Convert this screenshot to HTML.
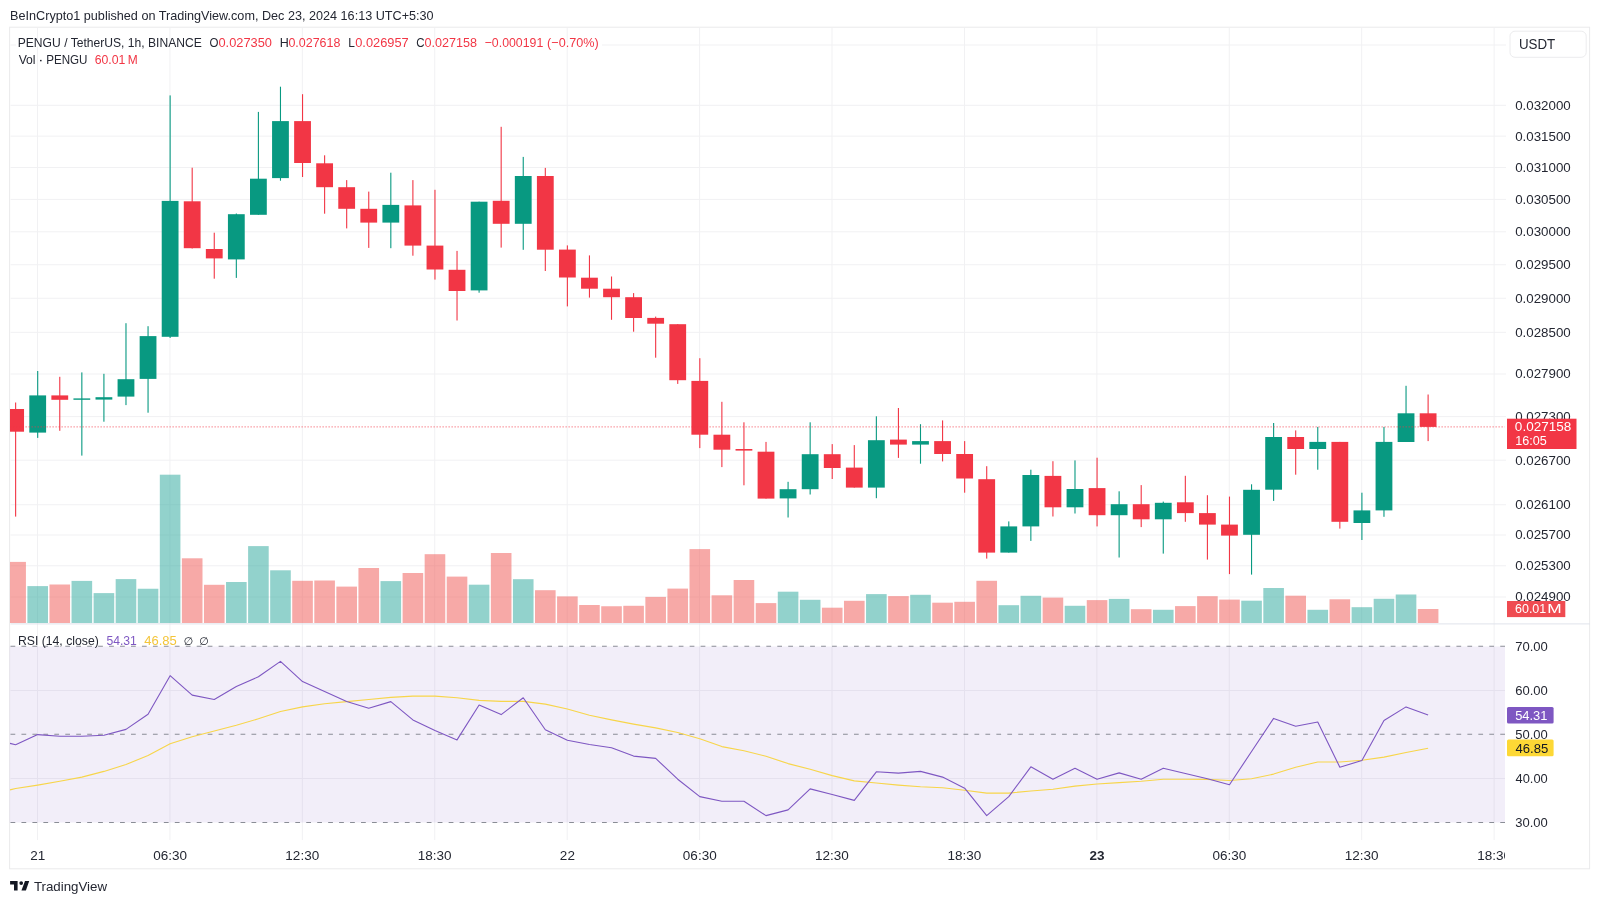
<!DOCTYPE html>
<html>
<head>
<meta charset="utf-8">
<title>PENGU / TetherUS chart</title>
<style>
html,body{margin:0;padding:0;background:#fff;}
body{width:1600px;height:904px;position:relative;overflow:hidden;font-family:"Liberation Sans",Arial,Helvetica,sans-serif;color:#131722;}
svg text{white-space:pre;}
svg{will-change:transform;}
</style>
</head>
<body>
<svg width="1600" height="904" viewBox="0 0 1600 904" style="position:absolute;left:0;top:0">
<defs><clipPath id="cpm"><rect x="10" y="28" width="1494.5" height="595.5"/></clipPath>
<clipPath id="cpr"><rect x="9.6" y="624.5" width="1494.5" height="215.5"/></clipPath>
<clipPath id="cpt"><rect x="10.5" y="840" width="1494.5" height="29"/></clipPath></defs>
<rect x="9.6" y="27.2" width="1580" height="841.6" fill="#fff" stroke="#EAEAEC" stroke-width="1"/>
<path d="M10.5 44.99 H1506 M10.5 105.3 H1506 M10.5 136.17 H1506 M10.5 167.53 H1506 M10.5 199.4 H1506 M10.5 231.8 H1506 M10.5 264.74 H1506 M10.5 298.24 H1506 M10.5 332.33 H1506 M10.5 374.03 H1506 M10.5 416.64 H1506 M10.5 460.2 H1506 M10.5 504.75 H1506 M10.5 535.02 H1506 M10.5 565.77 H1506 M10.5 597 H1506 M10.5 690.5 H1505 M10.5 778.5 H1505" stroke="#F1F1F3" stroke-width="1" fill="none"/>
<path d="M37.5 28 V840 M169.92 28 V840 M302.34 28 V840 M434.76 28 V840 M567.18 28 V840 M699.6 28 V840 M832.02 28 V840 M964.44 28 V840 M1096.86 28 V840 M1229.28 28 V840 M1361.7 28 V840 M1494.12 28 V840" stroke="#F1F1F3" stroke-width="1" fill="none"/>
<rect x="9.6" y="646.5" width="1495.4" height="176" fill="#7E57C2" fill-opacity="0.1"/>
<g clip-path="url(#cpm)">
<rect x="5.33" y="561.9" width="20.6" height="61.1" fill="rgba(239,83,80,0.5)"/>
<rect x="27.4" y="586.1" width="20.6" height="36.9" fill="rgba(38,166,154,0.5)"/>
<rect x="49.47" y="584.5" width="20.6" height="38.5" fill="rgba(239,83,80,0.5)"/>
<rect x="71.54" y="580.9" width="20.6" height="42.1" fill="rgba(38,166,154,0.5)"/>
<rect x="93.61" y="593.1" width="20.6" height="29.9" fill="rgba(38,166,154,0.5)"/>
<rect x="115.68" y="579.1" width="20.6" height="43.9" fill="rgba(38,166,154,0.5)"/>
<rect x="137.75" y="588.75" width="20.6" height="34.25" fill="rgba(38,166,154,0.5)"/>
<rect x="159.82" y="474.7" width="20.6" height="148.3" fill="rgba(38,166,154,0.5)"/>
<rect x="181.89" y="558.3" width="20.6" height="64.7" fill="rgba(239,83,80,0.5)"/>
<rect x="203.96" y="584.8" width="20.6" height="38.2" fill="rgba(239,83,80,0.5)"/>
<rect x="226.03" y="582" width="20.6" height="41" fill="rgba(38,166,154,0.5)"/>
<rect x="248.1" y="546.1" width="20.6" height="76.9" fill="rgba(38,166,154,0.5)"/>
<rect x="270.17" y="570.3" width="20.6" height="52.7" fill="rgba(38,166,154,0.5)"/>
<rect x="292.24" y="580.8" width="20.6" height="42.2" fill="rgba(239,83,80,0.5)"/>
<rect x="314.31" y="580.5" width="20.6" height="42.5" fill="rgba(239,83,80,0.5)"/>
<rect x="336.38" y="586.6" width="20.6" height="36.4" fill="rgba(239,83,80,0.5)"/>
<rect x="358.45" y="568" width="20.6" height="55" fill="rgba(239,83,80,0.5)"/>
<rect x="380.52" y="581.1" width="20.6" height="41.9" fill="rgba(38,166,154,0.5)"/>
<rect x="402.59" y="573" width="20.6" height="50" fill="rgba(239,83,80,0.5)"/>
<rect x="424.66" y="554.2" width="20.6" height="68.8" fill="rgba(239,83,80,0.5)"/>
<rect x="446.73" y="576.6" width="20.6" height="46.4" fill="rgba(239,83,80,0.5)"/>
<rect x="468.8" y="584.7" width="20.6" height="38.3" fill="rgba(38,166,154,0.5)"/>
<rect x="490.87" y="553" width="20.6" height="70" fill="rgba(239,83,80,0.5)"/>
<rect x="512.94" y="579.2" width="20.6" height="43.8" fill="rgba(38,166,154,0.5)"/>
<rect x="535.01" y="590.2" width="20.6" height="32.8" fill="rgba(239,83,80,0.5)"/>
<rect x="557.08" y="596.4" width="20.6" height="26.6" fill="rgba(239,83,80,0.5)"/>
<rect x="579.15" y="605" width="20.6" height="18" fill="rgba(239,83,80,0.5)"/>
<rect x="601.22" y="606.25" width="20.6" height="16.75" fill="rgba(239,83,80,0.5)"/>
<rect x="623.29" y="605.8" width="20.6" height="17.2" fill="rgba(239,83,80,0.5)"/>
<rect x="645.36" y="596.9" width="20.6" height="26.1" fill="rgba(239,83,80,0.5)"/>
<rect x="667.43" y="588.6" width="20.6" height="34.4" fill="rgba(239,83,80,0.5)"/>
<rect x="689.5" y="549.1" width="20.6" height="73.9" fill="rgba(239,83,80,0.5)"/>
<rect x="711.57" y="595.3" width="20.6" height="27.7" fill="rgba(239,83,80,0.5)"/>
<rect x="733.64" y="580" width="20.6" height="43" fill="rgba(239,83,80,0.5)"/>
<rect x="755.71" y="603.1" width="20.6" height="19.9" fill="rgba(239,83,80,0.5)"/>
<rect x="777.78" y="591.7" width="20.6" height="31.3" fill="rgba(38,166,154,0.5)"/>
<rect x="799.85" y="599.8" width="20.6" height="23.2" fill="rgba(38,166,154,0.5)"/>
<rect x="821.92" y="607.7" width="20.6" height="15.3" fill="rgba(239,83,80,0.5)"/>
<rect x="843.99" y="600.8" width="20.6" height="22.2" fill="rgba(239,83,80,0.5)"/>
<rect x="866.06" y="594.1" width="20.6" height="28.9" fill="rgba(38,166,154,0.5)"/>
<rect x="888.13" y="596.1" width="20.6" height="26.9" fill="rgba(239,83,80,0.5)"/>
<rect x="910.2" y="594.8" width="20.6" height="28.2" fill="rgba(38,166,154,0.5)"/>
<rect x="932.27" y="602.7" width="20.6" height="20.3" fill="rgba(239,83,80,0.5)"/>
<rect x="954.34" y="601.8" width="20.6" height="21.2" fill="rgba(239,83,80,0.5)"/>
<rect x="976.41" y="580.8" width="20.6" height="42.2" fill="rgba(239,83,80,0.5)"/>
<rect x="998.48" y="605.2" width="20.6" height="17.8" fill="rgba(38,166,154,0.5)"/>
<rect x="1020.55" y="595.8" width="20.6" height="27.2" fill="rgba(38,166,154,0.5)"/>
<rect x="1042.62" y="597.6" width="20.6" height="25.4" fill="rgba(239,83,80,0.5)"/>
<rect x="1064.69" y="605.8" width="20.6" height="17.2" fill="rgba(38,166,154,0.5)"/>
<rect x="1086.76" y="600.1" width="20.6" height="22.9" fill="rgba(239,83,80,0.5)"/>
<rect x="1108.83" y="598.9" width="20.6" height="24.1" fill="rgba(38,166,154,0.5)"/>
<rect x="1130.9" y="609.2" width="20.6" height="13.8" fill="rgba(239,83,80,0.5)"/>
<rect x="1152.97" y="609.8" width="20.6" height="13.2" fill="rgba(38,166,154,0.5)"/>
<rect x="1175.04" y="606.1" width="20.6" height="16.9" fill="rgba(239,83,80,0.5)"/>
<rect x="1197.11" y="596.2" width="20.6" height="26.8" fill="rgba(239,83,80,0.5)"/>
<rect x="1219.18" y="599.6" width="20.6" height="23.4" fill="rgba(239,83,80,0.5)"/>
<rect x="1241.25" y="600.7" width="20.6" height="22.3" fill="rgba(38,166,154,0.5)"/>
<rect x="1263.32" y="588" width="20.6" height="35" fill="rgba(38,166,154,0.5)"/>
<rect x="1285.39" y="595.7" width="20.6" height="27.3" fill="rgba(239,83,80,0.5)"/>
<rect x="1307.46" y="609.8" width="20.6" height="13.2" fill="rgba(38,166,154,0.5)"/>
<rect x="1329.53" y="599.3" width="20.6" height="23.7" fill="rgba(239,83,80,0.5)"/>
<rect x="1351.6" y="607.2" width="20.6" height="15.8" fill="rgba(38,166,154,0.5)"/>
<rect x="1373.67" y="598.8" width="20.6" height="24.2" fill="rgba(38,166,154,0.5)"/>
<rect x="1395.74" y="594.5" width="20.6" height="28.5" fill="rgba(38,166,154,0.5)"/>
<rect x="1417.81" y="609" width="20.6" height="14" fill="rgba(239,83,80,0.5)"/>
<rect x="15.08" y="402.5" width="1.1" height="114.1" fill="#F23645"/>
<rect x="7.23" y="409" width="16.8" height="22.7" fill="#F23645"/>
<rect x="37.15" y="371" width="1.1" height="66.9" fill="#089981"/>
<rect x="29.3" y="395.4" width="16.8" height="37.2" fill="#089981"/>
<rect x="59.22" y="376.8" width="1.1" height="54" fill="#F23645"/>
<rect x="51.37" y="395.4" width="16.8" height="4.4" fill="#F23645"/>
<rect x="81.29" y="372.4" width="1.1" height="83.2" fill="#089981"/>
<rect x="73.44" y="398.4" width="16.8" height="1.4" fill="#089981"/>
<rect x="103.36" y="373.8" width="1.1" height="47.9" fill="#089981"/>
<rect x="95.51" y="397.2" width="16.8" height="2.4" fill="#089981"/>
<rect x="125.43" y="323.2" width="1.1" height="81.9" fill="#089981"/>
<rect x="117.58" y="379.2" width="16.8" height="17.4" fill="#089981"/>
<rect x="147.5" y="326.2" width="1.1" height="86.5" fill="#089981"/>
<rect x="139.65" y="336.1" width="16.8" height="42.8" fill="#089981"/>
<rect x="169.57" y="95.4" width="1.1" height="242.6" fill="#089981"/>
<rect x="161.72" y="200.9" width="16.8" height="135.9" fill="#089981"/>
<rect x="191.64" y="167.7" width="1.1" height="80.8" fill="#F23645"/>
<rect x="183.79" y="201.3" width="16.8" height="46.9" fill="#F23645"/>
<rect x="213.71" y="232.7" width="1.1" height="46" fill="#F23645"/>
<rect x="205.86" y="249" width="16.8" height="9.4" fill="#F23645"/>
<rect x="235.78" y="213.5" width="1.1" height="64.4" fill="#089981"/>
<rect x="227.93" y="214.2" width="16.8" height="45.2" fill="#089981"/>
<rect x="257.85" y="111.9" width="1.1" height="102.9" fill="#089981"/>
<rect x="250" y="178.7" width="16.8" height="36.1" fill="#089981"/>
<rect x="279.92" y="86.7" width="1.1" height="94" fill="#089981"/>
<rect x="272.07" y="121.1" width="16.8" height="57" fill="#089981"/>
<rect x="301.99" y="94.2" width="1.1" height="82.8" fill="#F23645"/>
<rect x="294.14" y="121.1" width="16.8" height="41.9" fill="#F23645"/>
<rect x="324.06" y="155.3" width="1.1" height="58.4" fill="#F23645"/>
<rect x="316.21" y="163.3" width="16.8" height="23.9" fill="#F23645"/>
<rect x="346.13" y="180.1" width="1.1" height="48.3" fill="#F23645"/>
<rect x="338.28" y="187.2" width="16.8" height="21.6" fill="#F23645"/>
<rect x="368.2" y="191.6" width="1.1" height="56.3" fill="#F23645"/>
<rect x="360.35" y="208.8" width="16.8" height="13.8" fill="#F23645"/>
<rect x="390.27" y="172.7" width="1.1" height="75.5" fill="#089981"/>
<rect x="382.42" y="204.9" width="16.8" height="17.7" fill="#089981"/>
<rect x="412.34" y="180.1" width="1.1" height="75.6" fill="#F23645"/>
<rect x="404.49" y="205.4" width="16.8" height="40.2" fill="#F23645"/>
<rect x="434.41" y="189.8" width="1.1" height="89.8" fill="#F23645"/>
<rect x="426.56" y="245.6" width="16.8" height="23.9" fill="#F23645"/>
<rect x="456.48" y="250.9" width="1.1" height="69.6" fill="#F23645"/>
<rect x="448.63" y="269.8" width="16.8" height="21.2" fill="#F23645"/>
<rect x="478.55" y="201.7" width="1.1" height="91" fill="#089981"/>
<rect x="470.7" y="201.7" width="16.8" height="88.7" fill="#089981"/>
<rect x="500.62" y="126.8" width="1.1" height="120.8" fill="#F23645"/>
<rect x="492.77" y="200.8" width="16.8" height="23" fill="#F23645"/>
<rect x="522.69" y="156.9" width="1.1" height="92.9" fill="#089981"/>
<rect x="514.84" y="176" width="16.8" height="47.8" fill="#089981"/>
<rect x="544.76" y="167.9" width="1.1" height="103.1" fill="#F23645"/>
<rect x="536.91" y="176" width="16.8" height="73.7" fill="#F23645"/>
<rect x="566.83" y="245.4" width="1.1" height="61" fill="#F23645"/>
<rect x="558.98" y="249.6" width="16.8" height="27.9" fill="#F23645"/>
<rect x="588.9" y="255.4" width="1.1" height="42.2" fill="#F23645"/>
<rect x="581.05" y="277.7" width="16.8" height="11" fill="#F23645"/>
<rect x="610.97" y="276.5" width="1.1" height="43.3" fill="#F23645"/>
<rect x="603.12" y="288.7" width="16.8" height="8.5" fill="#F23645"/>
<rect x="633.04" y="293.1" width="1.1" height="38.6" fill="#F23645"/>
<rect x="625.19" y="297.2" width="16.8" height="20.8" fill="#F23645"/>
<rect x="655.11" y="316.6" width="1.1" height="41.1" fill="#F23645"/>
<rect x="647.26" y="317.9" width="16.8" height="5.8" fill="#F23645"/>
<rect x="677.18" y="324.2" width="1.1" height="59.7" fill="#F23645"/>
<rect x="669.33" y="324.2" width="16.8" height="56" fill="#F23645"/>
<rect x="699.25" y="358.2" width="1.1" height="89.9" fill="#F23645"/>
<rect x="691.4" y="380.9" width="16.8" height="53.8" fill="#F23645"/>
<rect x="721.32" y="401.8" width="1.1" height="65.3" fill="#F23645"/>
<rect x="713.47" y="434.7" width="16.8" height="15" fill="#F23645"/>
<rect x="743.39" y="422.3" width="1.1" height="63" fill="#F23645"/>
<rect x="735.54" y="449" width="16.8" height="1.6" fill="#F23645"/>
<rect x="765.46" y="441.9" width="1.1" height="56.7" fill="#F23645"/>
<rect x="757.61" y="451.7" width="16.8" height="46.9" fill="#F23645"/>
<rect x="787.53" y="481.8" width="1.1" height="35.7" fill="#089981"/>
<rect x="779.68" y="489.2" width="16.8" height="9.2" fill="#089981"/>
<rect x="809.6" y="422.3" width="1.1" height="72.2" fill="#089981"/>
<rect x="801.75" y="454.2" width="16.8" height="35" fill="#089981"/>
<rect x="831.67" y="444.1" width="1.1" height="34.9" fill="#F23645"/>
<rect x="823.82" y="454.2" width="16.8" height="13.8" fill="#F23645"/>
<rect x="853.74" y="445.1" width="1.1" height="42.5" fill="#F23645"/>
<rect x="845.89" y="467.6" width="16.8" height="20" fill="#F23645"/>
<rect x="875.81" y="416.3" width="1.1" height="81.9" fill="#089981"/>
<rect x="867.96" y="440.2" width="16.8" height="47.4" fill="#089981"/>
<rect x="897.88" y="408" width="1.1" height="49.9" fill="#F23645"/>
<rect x="890.03" y="439.6" width="16.8" height="5" fill="#F23645"/>
<rect x="919.95" y="424.2" width="1.1" height="39.5" fill="#089981"/>
<rect x="912.1" y="441.1" width="16.8" height="3.5" fill="#089981"/>
<rect x="942.02" y="420.4" width="1.1" height="41" fill="#F23645"/>
<rect x="934.17" y="441.1" width="16.8" height="12.9" fill="#F23645"/>
<rect x="964.09" y="441.1" width="1.1" height="51.6" fill="#F23645"/>
<rect x="956.24" y="454" width="16.8" height="24.5" fill="#F23645"/>
<rect x="986.16" y="466.2" width="1.1" height="92.4" fill="#F23645"/>
<rect x="978.31" y="479.2" width="16.8" height="73.4" fill="#F23645"/>
<rect x="1008.23" y="521.4" width="1.1" height="31.2" fill="#089981"/>
<rect x="1000.38" y="526.4" width="16.8" height="26.2" fill="#089981"/>
<rect x="1030.3" y="469.7" width="1.1" height="71.2" fill="#089981"/>
<rect x="1022.45" y="475" width="16.8" height="51.4" fill="#089981"/>
<rect x="1052.37" y="461.2" width="1.1" height="55.3" fill="#F23645"/>
<rect x="1044.52" y="475.9" width="16.8" height="31.4" fill="#F23645"/>
<rect x="1074.44" y="460.4" width="1.1" height="53.1" fill="#089981"/>
<rect x="1066.59" y="489" width="16.8" height="18.3" fill="#089981"/>
<rect x="1096.51" y="457.7" width="1.1" height="68.7" fill="#F23645"/>
<rect x="1088.66" y="488.1" width="16.8" height="27.1" fill="#F23645"/>
<rect x="1118.58" y="491.3" width="1.1" height="66.2" fill="#089981"/>
<rect x="1110.73" y="504.2" width="16.8" height="11" fill="#089981"/>
<rect x="1140.65" y="485.1" width="1.1" height="42" fill="#F23645"/>
<rect x="1132.8" y="504.2" width="16.8" height="15.1" fill="#F23645"/>
<rect x="1162.72" y="501.6" width="1.1" height="52" fill="#089981"/>
<rect x="1154.87" y="502.8" width="16.8" height="16.5" fill="#089981"/>
<rect x="1184.79" y="475.8" width="1.1" height="46" fill="#F23645"/>
<rect x="1176.94" y="502.3" width="16.8" height="10.8" fill="#F23645"/>
<rect x="1206.86" y="495.2" width="1.1" height="64.4" fill="#F23645"/>
<rect x="1199.01" y="513.1" width="16.8" height="11.5" fill="#F23645"/>
<rect x="1228.93" y="496.6" width="1.1" height="77.5" fill="#F23645"/>
<rect x="1221.08" y="524.6" width="16.8" height="11" fill="#F23645"/>
<rect x="1251" y="484.3" width="1.1" height="90.3" fill="#089981"/>
<rect x="1243.15" y="489.8" width="16.8" height="45" fill="#089981"/>
<rect x="1273.07" y="423" width="1.1" height="77.9" fill="#089981"/>
<rect x="1265.22" y="437" width="16.8" height="52.7" fill="#089981"/>
<rect x="1295.14" y="430.4" width="1.1" height="44.3" fill="#F23645"/>
<rect x="1287.29" y="437" width="16.8" height="12" fill="#F23645"/>
<rect x="1317.21" y="426.9" width="1.1" height="42.8" fill="#089981"/>
<rect x="1309.36" y="441.9" width="16.8" height="7.1" fill="#089981"/>
<rect x="1339.28" y="441.9" width="1.1" height="86.7" fill="#F23645"/>
<rect x="1331.43" y="441.9" width="16.8" height="79.9" fill="#F23645"/>
<rect x="1361.35" y="492.7" width="1.1" height="47.3" fill="#089981"/>
<rect x="1353.5" y="510.4" width="16.8" height="12.6" fill="#089981"/>
<rect x="1383.42" y="426.9" width="1.1" height="89.9" fill="#089981"/>
<rect x="1375.57" y="441.9" width="16.8" height="68.5" fill="#089981"/>
<rect x="1405.49" y="385.8" width="1.1" height="56.2" fill="#089981"/>
<rect x="1397.64" y="413.3" width="16.8" height="28.7" fill="#089981"/>
<rect x="1427.56" y="394.5" width="1.1" height="46.6" fill="#F23645"/>
<rect x="1419.71" y="413.3" width="16.8" height="13.6" fill="#F23645"/>
<path d="M10.5 426.9 H1505" stroke="#F23645" stroke-width="1" stroke-opacity="0.7" stroke-dasharray="1.3 1.7" fill="none"/>
</g>
<path d="M10.5 623.9 H1590" stroke="#E0E3EB" stroke-width="1" fill="none"/>
<path d="M10.5 646.3 H1505" stroke="#8A8D96" stroke-width="1.1" stroke-dasharray="4.75 6.204" fill="none"/>
<path d="M10.5 734.3 H1505" stroke="#8A8D96" stroke-width="1.1" stroke-dasharray="4.75 6.204" fill="none"/>
<path d="M10.5 822.5 H1505" stroke="#8A8D96" stroke-width="1.1" stroke-dasharray="4.75 6.204" fill="none"/>
<g clip-path="url(#cpr)">
<polyline points="10,789.9 15.63,788.5 37.7,785.1 59.77,781.3 81.84,777.1 103.91,771.4 125.98,764.5 148.05,755.6 170.12,743.7 192.19,736.7 214.26,731 236.33,725.2 258.4,718.8 280.47,711.5 302.54,706.9 324.61,703.7 346.68,701.6 368.75,699.5 390.82,697.4 412.89,696.1 434.96,696.1 457.03,697.8 479.1,700.4 501.17,701.4 523.24,701.4 545.31,704.1 567.38,709 589.45,715.3 611.52,719.9 633.59,724.1 655.66,727.9 677.73,732.5 699.8,738.8 721.87,746.6 743.94,750.8 766.01,756.3 788.08,763.6 810.15,769.3 832.22,775.6 854.29,780.9 876.36,783 898.43,785.1 920.5,786.8 942.57,787.8 964.64,790.3 986.71,793.1 1008.78,793.1 1030.85,791 1052.92,789.3 1074.99,786.1 1097.06,784 1119.13,782.6 1141.2,781.3 1163.27,779.2 1185.34,779.2 1207.41,779.4 1229.48,780.5 1251.55,778.8 1273.62,774.1 1295.69,767.2 1317.76,762 1339.83,762 1361.9,760.3 1383.97,757.1 1406.04,752.5 1428.11,748.3" fill="none" stroke="#F7D54A" stroke-width="1.1" stroke-linejoin="round"/>
<polyline points="10,743.4 15.63,744.7 37.7,734.6 59.77,736.3 81.84,736.3 103.91,735.2 125.98,729.4 148.05,714.2 170.12,675.7 192.19,695.1 214.26,699.5 236.33,686.5 258.4,676.8 280.47,661.4 302.54,681.6 324.61,691.5 346.68,701.4 368.75,708.3 390.82,701.6 412.89,719.9 434.96,730.4 457.03,739.9 479.1,705 501.17,714.6 523.24,697.8 545.31,729.8 567.38,740.3 589.45,744.5 611.52,747.7 633.59,756.1 655.66,758.4 677.73,779.2 699.8,796.6 721.87,801.3 743.94,801.3 766.01,815.6 788.08,809.9 810.15,788.9 832.22,794.5 854.29,800.4 876.36,771.8 898.43,773.1 920.5,771.4 942.57,777.1 964.64,788.2 986.71,815.6 1008.78,796.6 1030.85,766.8 1052.92,779.2 1074.99,768.3 1097.06,779.2 1119.13,772.9 1141.2,779.2 1163.27,768.3 1185.34,773.5 1207.41,778.8 1229.48,784.7 1251.55,751.5 1273.62,718.4 1295.69,726.2 1317.76,722 1339.83,767.2 1361.9,760.5 1383.97,720.5 1406.04,706.9 1428.11,715.1" fill="none" stroke="#7E57C2" stroke-width="1.1" stroke-linejoin="round"/>
</g>
<g font-family="'Liberation Sans', Arial, Helvetica, sans-serif">
<text x="10.09" y="19.8" font-size="13" fill="#242732" textLength="423.57" lengthAdjust="spacingAndGlyphs">BeInCrypto1 published on TradingView.com, Dec 23, 2024 16:13 UTC+5:30</text>
<rect x="16" y="43.4" width="586" height="3.2" fill="#fff"/>
<text x="17.73" y="47" font-size="13" fill="#242732" textLength="184.1" lengthAdjust="spacingAndGlyphs">PENGU / TetherUS, 1h, BINANCE</text>
<text x="209.38" y="47" font-size="13" fill="#242732" textLength="8.97" lengthAdjust="spacingAndGlyphs">O</text>
<text x="218.49" y="47" font-size="13" fill="#F23645" textLength="53.47" lengthAdjust="spacingAndGlyphs">0.027350</text>
<text x="279.7" y="47" font-size="13" fill="#242732" textLength="9.03" lengthAdjust="spacingAndGlyphs">H</text>
<text x="288.4" y="47" font-size="13" fill="#F23645" textLength="52.01" lengthAdjust="spacingAndGlyphs">0.027618</text>
<text x="348.15" y="47" font-size="13" fill="#242732" textLength="6.62" lengthAdjust="spacingAndGlyphs">L</text>
<text x="355.19" y="47" font-size="13" fill="#F23645" textLength="53.47" lengthAdjust="spacingAndGlyphs">0.026957</text>
<text x="416.13" y="47" font-size="13" fill="#242732" textLength="8.3" lengthAdjust="spacingAndGlyphs">C</text>
<text x="424.4" y="47" font-size="13" fill="#F23645" textLength="52.57" lengthAdjust="spacingAndGlyphs">0.027158</text>
<text x="484.68" y="47" font-size="13" fill="#F23645" textLength="58.57" lengthAdjust="spacingAndGlyphs">−0.000191</text>
<text x="547.04" y="47" font-size="13" fill="#F23645" textLength="51.67" lengthAdjust="spacingAndGlyphs">(−0.70%)</text>
<text x="18.64" y="63.8" font-size="13" fill="#242732" textLength="16.96" lengthAdjust="spacingAndGlyphs">Vol</text>
<text x="37.98" y="63.8" font-size="13" fill="#242732" textLength="5.61" lengthAdjust="spacingAndGlyphs">·</text>
<text x="46.17" y="63.8" font-size="13" fill="#242732" textLength="41.32" lengthAdjust="spacingAndGlyphs">PENGU</text>
<text x="94.69" y="63.8" font-size="13" fill="#F23645" textLength="30.7" lengthAdjust="spacingAndGlyphs">60.01</text>
<text x="127.64" y="63.8" font-size="13" fill="#F23645" textLength="9.95" lengthAdjust="spacingAndGlyphs">M</text>
<text x="17.92" y="645.4" font-size="13" fill="#242732" textLength="80.85" lengthAdjust="spacingAndGlyphs">RSI (14, close)</text>
<text x="106.41" y="645.4" font-size="13" fill="#7E57C2" textLength="30.47" lengthAdjust="spacingAndGlyphs">54.31</text>
<text x="144.24" y="645.4" font-size="13" fill="#F4C53A" textLength="32.51" lengthAdjust="spacingAndGlyphs">46.85</text>
<text x="183.6" y="645.4" font-size="11" font-family="DejaVu Sans, sans-serif" fill="#131722">∅</text>
<text x="198.9" y="645.4" font-size="11" font-family="DejaVu Sans, sans-serif" fill="#131722">∅</text>
<text x="1515.17" y="109.7" font-size="13" fill="#242732" textLength="55.61" lengthAdjust="spacingAndGlyphs">0.032000</text>
<text x="1515.17" y="140.57" font-size="13" fill="#242732" textLength="55.61" lengthAdjust="spacingAndGlyphs">0.031500</text>
<text x="1515.17" y="171.93" font-size="13" fill="#242732" textLength="55.61" lengthAdjust="spacingAndGlyphs">0.031000</text>
<text x="1515.17" y="203.8" font-size="13" fill="#242732" textLength="55.61" lengthAdjust="spacingAndGlyphs">0.030500</text>
<text x="1515.17" y="236.2" font-size="13" fill="#242732" textLength="55.61" lengthAdjust="spacingAndGlyphs">0.030000</text>
<text x="1515.17" y="269.14" font-size="13" fill="#242732" textLength="55.61" lengthAdjust="spacingAndGlyphs">0.029500</text>
<text x="1515.17" y="302.64" font-size="13" fill="#242732" textLength="55.61" lengthAdjust="spacingAndGlyphs">0.029000</text>
<text x="1515.17" y="336.73" font-size="13" fill="#242732" textLength="55.61" lengthAdjust="spacingAndGlyphs">0.028500</text>
<text x="1515.17" y="378.43" font-size="13" fill="#242732" textLength="55.61" lengthAdjust="spacingAndGlyphs">0.027900</text>
<text x="1515.17" y="421.04" font-size="13" fill="#242732" textLength="55.61" lengthAdjust="spacingAndGlyphs">0.027300</text>
<text x="1515.17" y="464.6" font-size="13" fill="#242732" textLength="55.61" lengthAdjust="spacingAndGlyphs">0.026700</text>
<text x="1515.17" y="509.15" font-size="13" fill="#242732" textLength="55.61" lengthAdjust="spacingAndGlyphs">0.026100</text>
<text x="1515.17" y="539.42" font-size="13" fill="#242732" textLength="55.61" lengthAdjust="spacingAndGlyphs">0.025700</text>
<text x="1515.17" y="570.17" font-size="13" fill="#242732" textLength="55.61" lengthAdjust="spacingAndGlyphs">0.025300</text>
<text x="1515.17" y="601.4" font-size="13" fill="#242732" textLength="55.61" lengthAdjust="spacingAndGlyphs">0.024900</text>
<text x="1515.15" y="650.7" font-size="13" fill="#242732" textLength="32.64" lengthAdjust="spacingAndGlyphs">70.00</text>
<text x="1515.15" y="694.8" font-size="13" fill="#242732" textLength="32.64" lengthAdjust="spacingAndGlyphs">60.00</text>
<text x="1515.28" y="738.7" font-size="13" fill="#242732" textLength="32.51" lengthAdjust="spacingAndGlyphs">50.00</text>
<text x="1515.54" y="782.8" font-size="13" fill="#242732" textLength="32.24" lengthAdjust="spacingAndGlyphs">40.00</text>
<text x="1515.28" y="826.9" font-size="13" fill="#242732" textLength="32.51" lengthAdjust="spacingAndGlyphs">30.00</text>
<rect x="1507" y="418.7" width="69.5" height="30.3" fill="#F23645"/>
<text x="1514.86" y="431.3" font-size="13" fill="#fff" textLength="56.4" lengthAdjust="spacingAndGlyphs">0.027158</text>
<text x="1515.15" y="445" font-size="13" fill="#fff" textLength="31.58" lengthAdjust="spacingAndGlyphs">16:05</text>
<rect x="1507" y="601" width="58.3" height="16.1" fill="#EF4B51"/>
<text x="1514.97" y="613.4" font-size="13" fill="#fff" textLength="31.32" lengthAdjust="spacingAndGlyphs">60.01</text>
<text x="1547.21" y="613.4" font-size="13" fill="#fff" textLength="14.42" lengthAdjust="spacingAndGlyphs">M</text>
<rect x="1507" y="706.9" width="46.6" height="16.7" rx="1.5" fill="#7E57C2"/>
<text x="1515.18" y="719.9" font-size="13" fill="#fff" textLength="32.33" lengthAdjust="spacingAndGlyphs">54.31</text>
<rect x="1507" y="739.4" width="46.6" height="16.8" rx="1.5" fill="#FDD835"/>
<text x="1515.44" y="752.5" font-size="13" fill="#131722" textLength="32.82" lengthAdjust="spacingAndGlyphs">46.85</text>
<rect x="1510" y="31.2" width="76.2" height="26.1" rx="5" fill="#fff" stroke="#ECECEE" stroke-width="1"/>
<text x="1518.9" y="48.9" font-size="14" fill="#242732" textLength="36.3" lengthAdjust="spacingAndGlyphs">USDT</text>
<text x="33.93" y="890.75" font-size="13" fill="#242732" textLength="73.14" lengthAdjust="spacingAndGlyphs">TradingView</text>
</g>
<g clip-path="url(#cpt)" font-family="'Liberation Sans', Arial, Helvetica, sans-serif" font-size="13" fill="#131722">
<text x="30.16" y="860" font-size="13" fill="#242732" textLength="15.04" lengthAdjust="spacingAndGlyphs">21</text>
<text x="153.19" y="860" font-size="13" fill="#242732" textLength="33.83" lengthAdjust="spacingAndGlyphs">06:30</text>
<text x="285.37" y="860" font-size="13" fill="#242732" textLength="33.83" lengthAdjust="spacingAndGlyphs">12:30</text>
<text x="417.79" y="860" font-size="13" fill="#242732" textLength="33.83" lengthAdjust="spacingAndGlyphs">18:30</text>
<text x="559.88" y="860" font-size="13" fill="#242732" textLength="15.04" lengthAdjust="spacingAndGlyphs">22</text>
<text x="682.87" y="860" font-size="13" fill="#242732" textLength="33.83" lengthAdjust="spacingAndGlyphs">06:30</text>
<text x="815.05" y="860" font-size="13" fill="#242732" textLength="33.83" lengthAdjust="spacingAndGlyphs">12:30</text>
<text x="947.47" y="860" font-size="13" fill="#242732" textLength="33.83" lengthAdjust="spacingAndGlyphs">18:30</text>
<text x="1089.56" y="860" font-size="13" fill="#242732" font-weight="bold" textLength="15.04" lengthAdjust="spacingAndGlyphs">23</text>
<text x="1212.55" y="860" font-size="13" fill="#242732" textLength="33.83" lengthAdjust="spacingAndGlyphs">06:30</text>
<text x="1344.73" y="860" font-size="13" fill="#242732" textLength="33.83" lengthAdjust="spacingAndGlyphs">12:30</text>
<text x="1477.15" y="860" font-size="13" fill="#242732" textLength="33.83" lengthAdjust="spacingAndGlyphs">18:30</text>
</g>
<g fill="#131722"><path d="M10.1 881 H17.6 V890.4 H14 V884.5 H10.1 Z"/><circle cx="21.2" cy="883.1" r="1.85"/><path d="M25 881 H29.2 L25.9 890.4 H21.45 Z"/></g>
</svg>
</body>
</html>
